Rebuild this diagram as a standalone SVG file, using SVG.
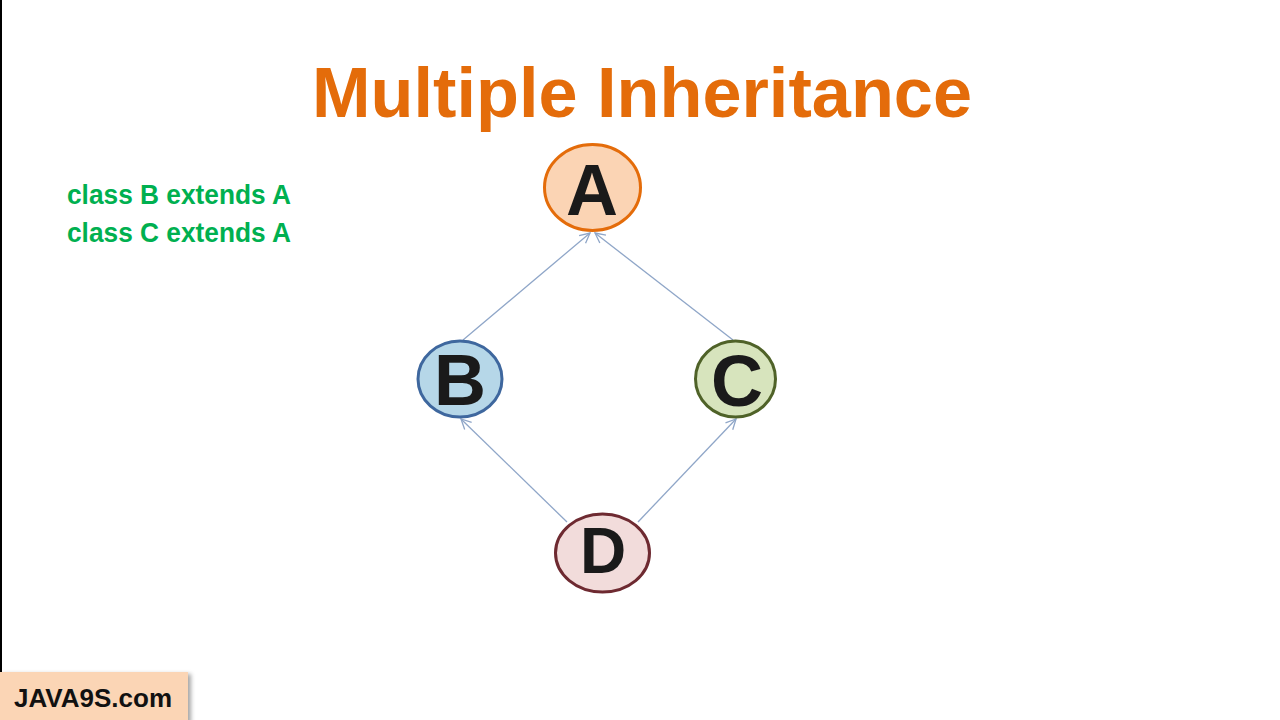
<svg xmlns="http://www.w3.org/2000/svg" width="1280" height="720" viewBox="0 0 1280 720">
<defs>
<style>
.title{font-family:"Liberation Sans",Arial,sans-serif;font-weight:bold;font-size:70px;fill:#E46C0A}
.code{font-family:"Liberation Sans",Arial,sans-serif;font-weight:bold;font-size:28px;fill:#00B050}
.lbl{font-family:"Liberation Sans",Arial,sans-serif;font-weight:bold;font-size:72px;fill:#1A1A1A;text-anchor:middle}
.edge{stroke:#8FA6C8;stroke-width:1.3;fill:none;marker-end:url(#arr)}
.brand{font-family:"Liberation Sans",Arial,sans-serif;font-weight:bold;font-size:25px;fill:#111}
</style>
<marker id="arr" viewBox="0 0 12 12" refX="11" refY="6" markerWidth="12" markerHeight="12" markerUnits="userSpaceOnUse" orient="auto">
<path d="M1,1 L11,6 L1,11" fill="none" stroke="#8FA6C8" stroke-width="1.3"/>
</marker>
<filter id="sh" x="-10%" y="-10%" width="130%" height="130%">
<feDropShadow dx="3" dy="2" stdDeviation="2" flood-color="#000" flood-opacity="0.35"/>
</filter>
</defs>
<rect width="1280" height="720" fill="#FFFFFF"/>
<line x1="1" y1="0" x2="1" y2="672" stroke="#000" stroke-width="2"/>
<text class="title" x="312" y="117" textLength="660" lengthAdjust="spacingAndGlyphs">Multiple Inheritance</text>
<g id="code">
<text class="code" x="67" y="204" textLength="224" lengthAdjust="spacingAndGlyphs">class B extends A</text>
<text class="code" x="67" y="242" textLength="224" lengthAdjust="spacingAndGlyphs">class C extends A</text>
</g>
<g id="connectors">
<line class="edge" x1="463" y1="340" x2="590" y2="233"/>
<line class="edge" x1="733" y1="340" x2="595" y2="233"/>
<line class="edge" x1="567" y1="522" x2="461" y2="419"/>
<line class="edge" x1="638" y1="522" x2="736" y2="419"/>
</g>
<g id="nodeA">
<ellipse cx="592.5" cy="187.5" rx="48" ry="43" fill="#FBD4B4" stroke="#E46C0A" stroke-width="3"/>
<text class="lbl" x="592" y="215">A</text>
</g>
<g id="nodeB">
<ellipse cx="460" cy="379" rx="42" ry="38" fill="#B6D7E8" stroke="#3E679E" stroke-width="3"/>
<text class="lbl" x="460" y="405">B</text>
</g>
<g id="nodeC">
<ellipse cx="735.5" cy="379" rx="40" ry="38" fill="#D7E4BD" stroke="#4F6228" stroke-width="3"/>
<text class="lbl" x="737" y="406">C</text>
</g>
<g id="nodeD">
<ellipse cx="602.5" cy="553" rx="47" ry="39" fill="#F2DCDB" stroke="#6E2A31" stroke-width="3"/>
<text class="lbl" x="603" y="573" style="font-size:64px">D</text>
</g>
<g id="brand">
<rect x="0" y="672" width="188" height="50" fill="#FBD5B5" filter="url(#sh)"/>
<text class="brand" x="14" y="707" textLength="158" lengthAdjust="spacingAndGlyphs">JAVA9S.com</text>
</g>
</svg>
